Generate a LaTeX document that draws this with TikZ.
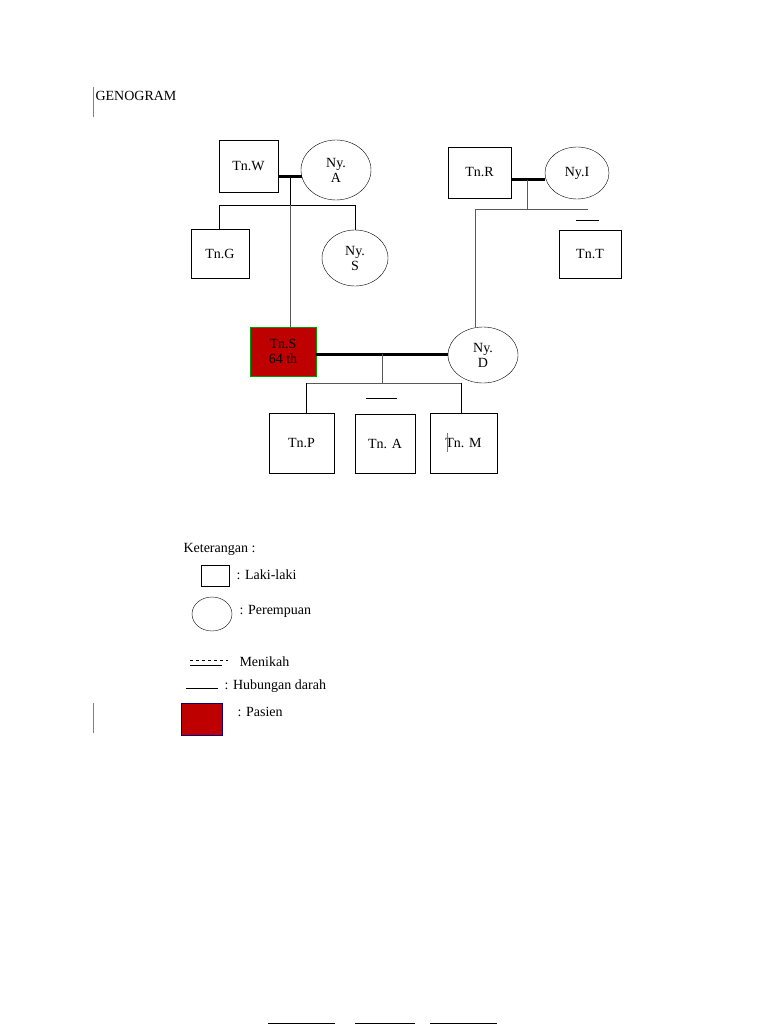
\documentclass[tikz,border=0pt]{standalone}
\usepackage{fontspec}
\setmainfont{Liberation Serif}
\usetikzlibrary{positioning,shapes.geometric}
\begin{document}
\begin{tikzpicture}[x=1pt,y=-1pt,
    every node/.style={font=\fontsize{14}{15}\selectfont},
    male/.style={draw, thick, inner sep=0pt, align=center},
    female/.style={draw, ellipse, inner sep=0pt, align=center},
    nikah/.style={line width=3pt},
    darah/.style={gray!70!black, line width=0.6pt}]
\useasboundingbox (0,0) rectangle (768,1024);
\node[anchor=west] (judul) at (92,96) {GENOGRAM};
\draw[gray] (93,87) -- (93,117);

% generasi 1
\node[male, minimum width=59, minimum height=52] (W) at (248.5,166) {Tn.W};
\node[female, minimum width=70, minimum height=60] (A) at (336,170) {Ny.\\A};
\node[male, minimum width=63, minimum height=51] (R) at (479.5,172.5) {Tn.R};
\node[female, minimum width=64, minimum height=52] (I) at (577,173) {Ny.I};
\draw[nikah] (W.east |- 0,177) -- (302,177);
\draw[nikah] (R.east |- 0,180) -- (545,180);

% generasi 2
\node[male, minimum width=58, minimum height=49] (G) at (220,253.5) {Tn.G};
\node[female, minimum width=66, minimum height=56] (S2) at (355,258) {Ny.\\S};
\node[male, minimum width=62, minimum height=48] (T) at (590,254) {Tn.T};
\node[draw=green!60!black, fill=red!75!black, minimum width=66, minimum height=49, inner sep=0pt, align=center] (S) at (283,351.5) {Tn.S\\64 th};
\node[female, minimum width=70, minimum height=56] (D) at (483,355) {Ny.\\D};
\draw[nikah] (S.east |- 0,354) -- (D.west |- 0,354);

\coordinate (wa) at (290,177);
\coordinate (wa1) at (290,205);
\draw (wa) -- (wa1);
\draw (219,205) -- (355,205);
\draw (219,205) -- (G.north -| 219,0);
\draw (355,205) -- (S2.north);
\draw[darah] (wa1) -- (S.north -| 290,0);

\coordinate (ri) at (527,180);
\draw[darah] (ri) -- (527,209);
\draw[darah] (475,209) -- (588,209);
\draw[darah] (475,209) -- (D.north -| 475,0);
\draw (576,220) -- (599,220);

% generasi 3
\node[male, minimum width=65, minimum height=60] (P) at (301.5,443) {Tn.P};
\node[male, minimum width=60, minimum height=59] (A3) at (385,443.5) {Tn. A};
\node[male, minimum width=67, minimum height=60] (M) at (463.5,443) {Tn. M};
\coordinate (sd) at (382,354);
\draw[darah] (sd) -- (382,383);
\draw[darah] (306,383) -- (461,383);
\draw (306,383) -- (P.north -| 306,0);
\draw (461,383) -- (M.north -| 461,0);
\draw (366,398) -- (397,398);
\draw[blue!60, thin] (447,433) -- (447,452);

% keterangan
\node[anchor=west] (ket) at (180,549) {Keterangan :};
\node[draw, minimum width=28, minimum height=21, inner sep=0pt] (lk) at (215,575.5) {};
\node[anchor=west] (lkt) at (233,575) {: Laki-laki};
\node[draw, ellipse, minimum width=40, minimum height=34, inner sep=0pt] (pr) at (212,614) {};
\node[anchor=west] (prt) at (236,611) {: Perempuan};
\draw (190,665) -- (222,665);
\draw[dashed] (190,660) -- (228,660);
\node[anchor=west] (nkt) at (236,662) {Menikah};
\draw (186,688) -- (218,688);
\node[anchor=west] (hdt) at (221,686) {: Hubungan darah};
\node[draw=blue!50!black, fill=red!75!black, minimum width=41, minimum height=32, inner sep=0pt] (ps) at (201.5,719) {};
\node[anchor=west] (pst) at (234,712) {: Pasien};
\draw[gray] (93,703) -- (93,733);

% garis bawah
\draw (268,1023) -- (335,1023);
\draw (355,1023) -- (415,1023);
\draw (430,1023) -- (497,1023);
\end{tikzpicture}
\end{document}
